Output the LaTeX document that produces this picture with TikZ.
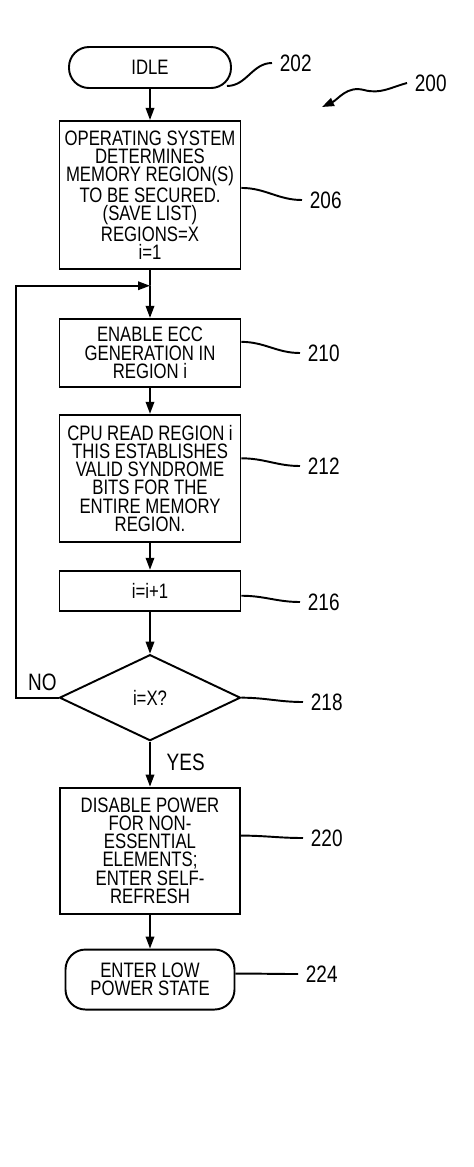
\documentclass[tikz,border=0pt]{standalone}
\usepackage{fontspec}
\setmainfont{Liberation Sans}[FakeStretch=0.8]
\usepackage{tikz}
\usetikzlibrary{arrows.meta,positioning,shapes.geometric,calc}

\begin{document}
\begin{tikzpicture}[font=\fontsize{11.9}{10.4}\selectfont,line width=1pt,
    >={Triangle[length=2.4mm,width=1.7mm]},
    procbox/.style={draw,line width=1.1pt,align=center,inner sep=1pt,minimum width=3.62cm},
    termbox/.style={draw,line width=1.1pt,align=center,inner sep=1pt,rounded corners=0.4cm},
    decbox/.style={draw,line width=1.1pt,diamond,inner sep=0pt,minimum width=3.62cm,minimum height=1.72cm},
    reflabel/.style={anchor=west,inner sep=4pt,font=\fontsize{13.5}{14}\selectfont},
    leader/.style={line width=1.1pt}]

  \useasboundingbox (0,0) rectangle (9.48,-23.34);

  \node[termbox,minimum width=3.24cm,minimum height=0.82cm] (idle) at (3.0,-1.35) {IDLE};

  \node[procbox,below=0.62cm of idle,minimum height=2.96cm] (b206)
       {OPERATING SYSTEM\\DETERMINES\\MEMORY REGION(S)\\TO BE SECURED.\\(SAVE LIST)\\REGIONS=X\\i=1};

  \node[procbox,below=0.96cm of b206,minimum height=1.36cm] (b210)
       {ENABLE ECC\\GENERATION IN\\REGION i};

  \node[procbox,below=0.52cm of b210,minimum height=2.54cm] (b212)
       {CPU READ REGION i\\THIS ESTABLISHES\\VALID SYNDROME\\BITS FOR THE\\ENTIRE MEMORY\\REGION.};

  \node[procbox,below=0.54cm of b212,minimum height=0.8cm] (b216) {i=i+1};

  \node[decbox,below=0.84cm of b216] (d218) {i=X?};

  \node[procbox,below=0.9cm of d218,minimum width=3.6cm,minimum height=2.52cm] (b220)
       {DISABLE POWER\\FOR NON-\\ESSENTIAL\\ELEMENTS;\\ENTER SELF-\\REFRESH};

  \node[termbox,below=0.68cm of b220,minimum width=3.38cm,minimum height=1.2cm] (t224)
       {ENTER LOW\\POWER STATE};

  % reference numerals
  \node[reflabel] (l202) at (5.44,-1.26) {202};
  \node[reflabel] (l200) at (8.14,-1.66) {200};
  \node[reflabel] (l206) at (6.04,-4.0) {206};
  \node[reflabel] (l210) at (6.0,-7.06) {210};
  \node[reflabel] (l212) at (6.0,-9.32) {212};
  \node[reflabel] (l216) at (6.0,-12.04) {216};
  \node[reflabel] (l218) at (6.06,-14.04) {218};
  \node[reflabel] (l220) at (6.06,-16.76) {220};
  \node[reflabel] (l224) at (5.96,-19.48) {224};

  \coordinate (join) at ($(b206.south)!0.33!(b210.north)$);
  \coordinate (loop) at (0.32,0);
  \coordinate (tip200) at (6.44,-2.14);

  % flow
  \draw[->] (idle) -- (b206);
  \draw (b206) -- (join);
  \draw[->] (join) -- (b210);
  \draw[->] (b210) -- (b212);
  \draw[->] (b212) -- (b216);
  \draw[->] (b216) -- (d218);
  \draw[->] (d218) -- node[right,pos=0.45,xshift=0.2cm,font=\fontsize{13.5}{14}\selectfont]{YES} (b220);
  \draw[->] (b220) -- (t224);
  \draw[->] (d218.west) -- node[above,pos=0.38,font=\fontsize{13.5}{14}\selectfont]{NO} (loop |- d218.west) |- (join);

  % leaders
  \draw[leader] ($(idle.south east)+(-0.1,0.06)$) to[out=0,in=180] (l202.west);
  \draw[leader,->] (l200.west) to[out=195,in=-15] (7.28,-1.8) to[out=165,in=25] (tip200);
  \draw[leader] ($(b206.east)+(0,0.14)$) to[out=0,in=180] (l206.west);
  \draw[leader] ($(b210.east)+(0,0.22)$) to[out=0,in=180] (l210.west);
  \draw[leader] ($(b212.east)+(0,0.4)$) to[out=0,in=180] (l212.west);
  \draw[leader] ($(b216.east)+(0,-0.1)$) to[out=0,in=180] (l216.west);
  \draw[leader] (d218.east) to[out=0,in=180] (l218.west);
  \draw[leader] ($(b220.east)+(0,0.3)$) to[out=0,in=180] (l220.west);
  \draw[leader] ($(t224.east)+(0,0.12)$) to[out=0,in=180] (l224.west);

\end{tikzpicture}
\end{document}
